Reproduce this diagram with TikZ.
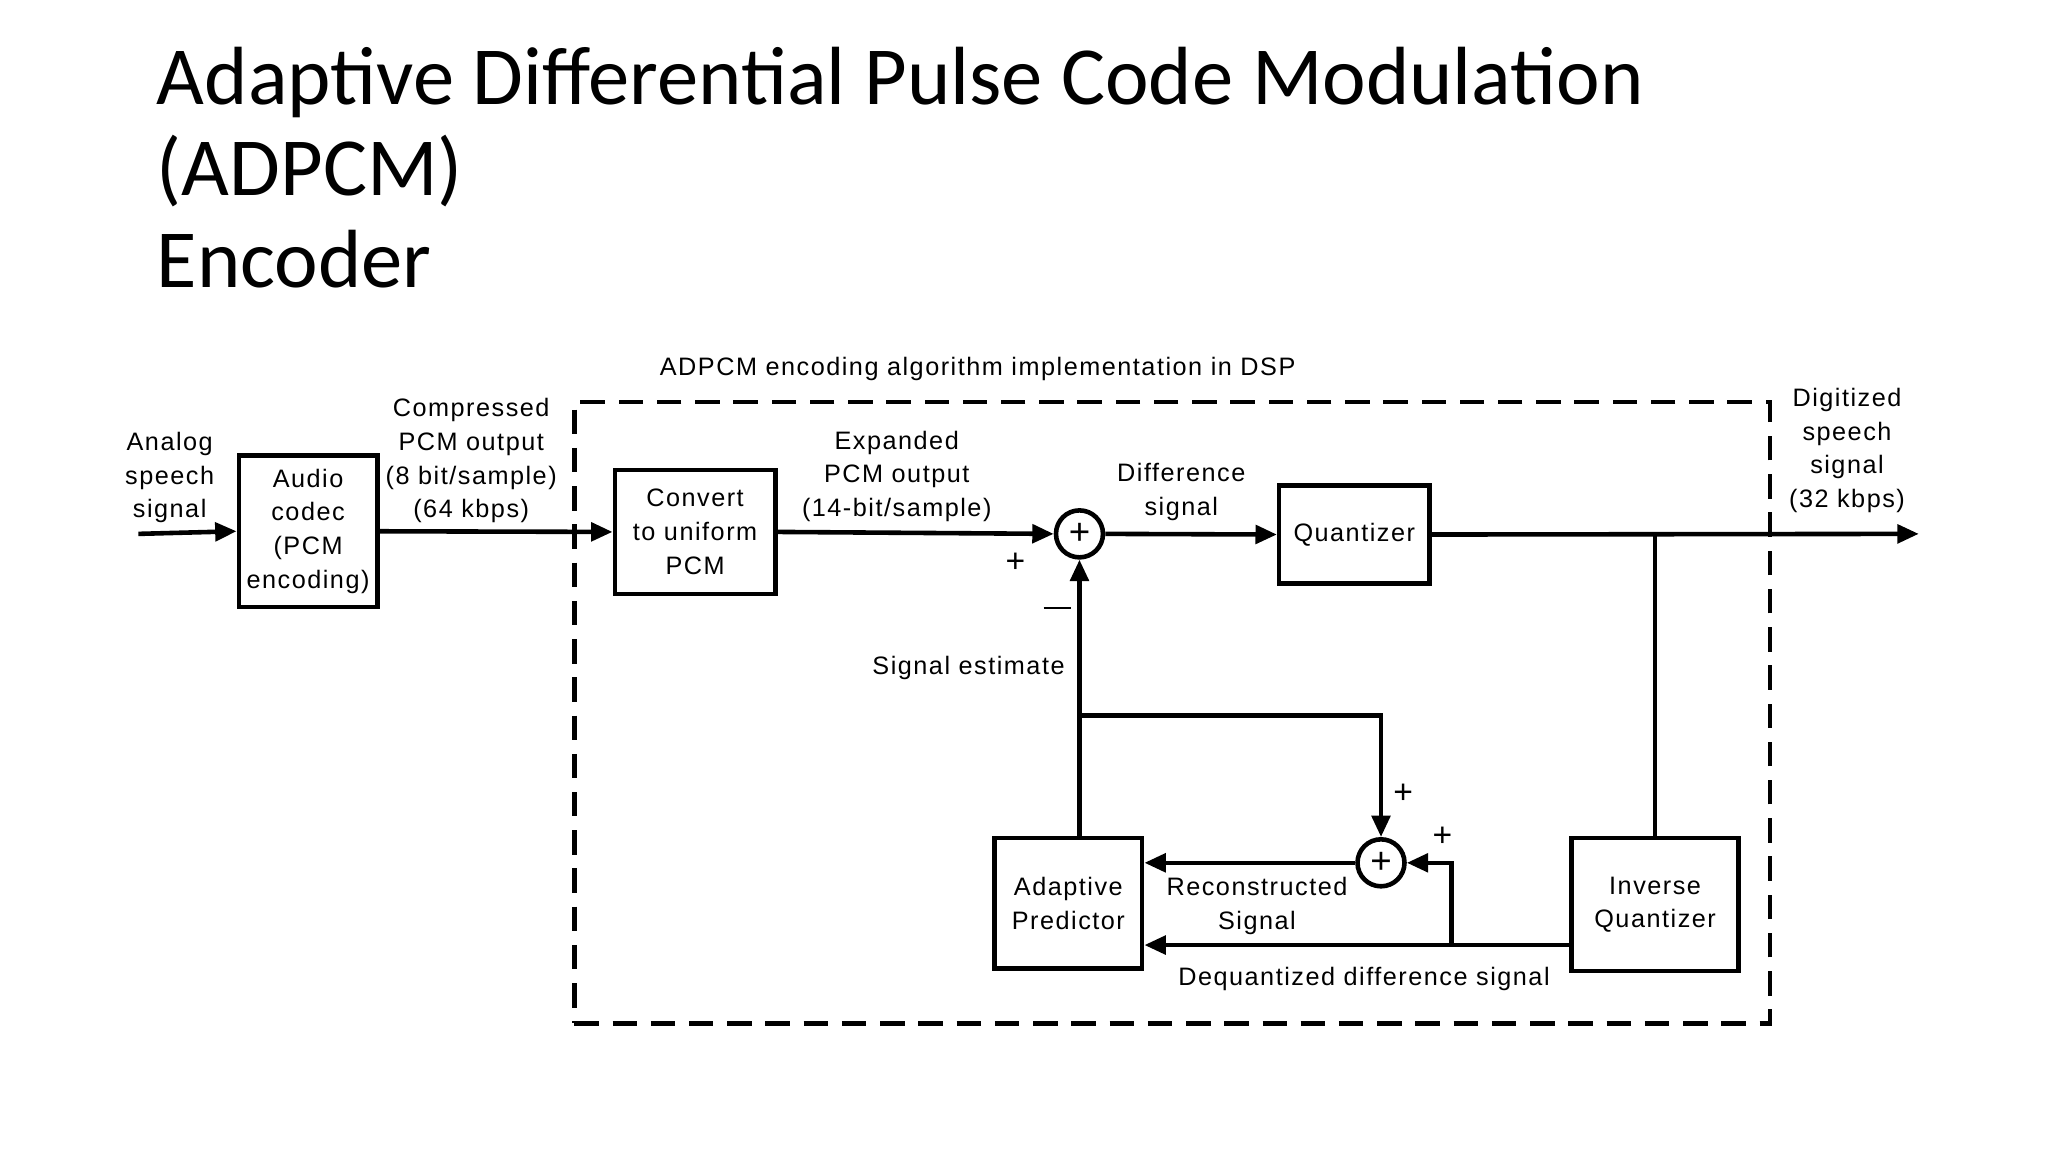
\documentclass[tikz,border=0pt]{standalone}
\usepackage{fontspec}
\setmainfont{Liberation Sans}
\newfontfamily\titlefont{Carlito}
\newfontfamily\df{Liberation Sans}[LetterSpace=6]
\usetikzlibrary{arrows.meta}
\begin{document}
\begin{tikzpicture}[x=0.03cm,y=-0.03cm,
  blk/.style={draw,line width=3pt,align=center,font=\df\fontsize{16.5}{22}\selectfont,inner sep=0pt},
  sum/.style={draw,circle,line width=3pt,minimum size=36*0.03cm,inner sep=0pt,font=\fontsize{24}{24}\selectfont},
  ln/.style={line width=3pt},
  ar/.style={ln,-{Triangle[length=14pt,width=12pt]}},
  ttl/.style={anchor=base west,font=\titlefont\fontsize{54}{54}\selectfont,inner sep=0pt},
  lab/.style={align=center,font=\df\fontsize{16.5}{22}\selectfont,inner sep=0pt}]
\useasboundingbox (0,0) rectangle (1569,882.6);
\node[ttl] (t1) at (120,80) {Adaptive Differential Pulse Code Modulation};
\node[ttl] (t2) at (120,150) {(ADPCM)};
\node[ttl] (t3) at (120,220) {Encoder};
\node[draw,dashed,line width=3pt,dash pattern=on 16pt off 9pt,minimum width=916*0.03cm,minimum height=476*0.03cm,inner sep=0pt] (dsp) at (898,546) {};
\node[blk,minimum width=106*0.03cm,minimum height=116*0.03cm] (codec) at (236,407) {Audio\\codec\\(PCM\\encoding)};
\node[blk,minimum width=123*0.03cm,minimum height=95*0.03cm] (conv) at (532.5,407.5) {Convert\\to uniform\\PCM};
\node[sum] (s1) at (827,409) {+};
\node[blk,minimum width=115*0.03cm,minimum height=75*0.03cm] (quant) at (1037.5,409.5) {Quantizer};
\node[blk,minimum width=128*0.03cm,minimum height=102*0.03cm] (iq) at (1268,693) {Inverse\\Quantizer};
\node[blk,minimum width=113*0.03cm,minimum height=100*0.03cm] (ap) at (818.5,692) {Adaptive\\Predictor};
\node[sum] (s2) at (1058,661) {+};
\coordinate (in) at (106,409);
\coordinate (out) at (1470,409);
\coordinate (tap) at (1268,409);
\coordinate (br) at (827,548);
\coordinate (bx) at (1112,724);
\draw[ar] (in) -- (codec.west);
\draw[ar] (codec.east) -- (conv.west);
\draw[ar] (conv.east) -- (s1.west);
\draw[ar] (s1.east) -- (quant.west);
\draw[ar] (quant.east) -- (out);
\draw[ln] (tap) -- (iq.north);
\draw[ar] (ap.north -| s1) -- (s1.south);
\draw[ar] (br) -| (s2.north);
\draw[ar] (s2.west) -- (s2.west -| ap.east);
\draw[ar] (iq.west |- bx) -- (bx -| ap.east);
\draw[ar] (bx) |- (s2.east);
\node[lab] (l1) at (130,366) {Analog\\speech\\signal};
\node[lab] (l2) at (361,353) {Compressed\\PCM output\\(8 bit/sample)\\(64 kbps)};
\node[lab] (l3) at (749,283) {ADPCM encoding algorithm implementation in DSP};
\node[lab] (l4) at (687,365) {Expanded\\PCM output\\(14-bit/sample)};
\node[lab] (l5) at (905,377) {Difference\\signal};
\node[lab] (l6) at (1415,345) {Digitized\\speech\\signal\\(32 kbps)};
\node[lab,font=\fontsize{22}{22}\selectfont] (p1) at (778,431) {+};
\node[lab] (m1) at (810,466) {\rule{18pt}{1.2pt}};
\node[lab] (l7) at (742,512) {Signal estimate};
\node[lab,font=\fontsize{22}{22}\selectfont] (p2) at (1075,608) {+};
\node[lab,font=\fontsize{22}{22}\selectfont] (p3) at (1105,641) {+};
\node[lab] (l8) at (963,694) {Reconstructed\\Signal};
\node[lab] (l9) at (1045,750) {Dequantized difference signal};
\end{tikzpicture}
\end{document}
